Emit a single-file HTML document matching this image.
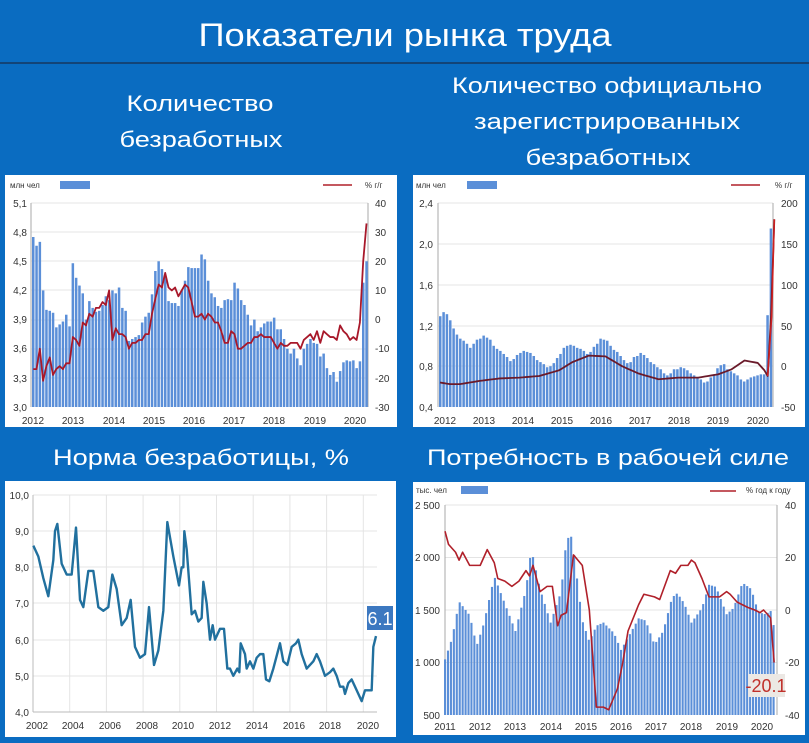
<!DOCTYPE html>
<html><head><meta charset="utf-8"><style>
html,body{margin:0;padding:0;background:#0a6cc1}
svg{display:block}
text{font-family:"Liberation Sans",sans-serif}
.t{fill:#fff}
.ax{font-size:10px;fill:#333}
.lg{font-size:8px;fill:#333}
</style></head><body>
<svg id="s" width="809" height="743" viewBox="0 0 809 743" xmlns="http://www.w3.org/2000/svg">
<rect width="809" height="743" fill="#0a6cc1"/>
<line x1="0" y1="63" x2="809" y2="63" stroke="#16365f" stroke-width="1.5"/>
<text class="t" x="405" y="46" font-size="32" text-anchor="middle" textLength="413" lengthAdjust="spacingAndGlyphs">Показатели рынка труда</text>
<text class="t" x="200" y="111" font-size="22" text-anchor="middle" textLength="147" lengthAdjust="spacingAndGlyphs">Количество</text>
<text class="t" x="201" y="147" font-size="22" text-anchor="middle" textLength="163" lengthAdjust="spacingAndGlyphs">безработных</text>
<text class="t" x="607" y="93" font-size="22" text-anchor="middle" textLength="310" lengthAdjust="spacingAndGlyphs">Количество официально</text>
<text class="t" x="607" y="129" font-size="22" text-anchor="middle" textLength="266" lengthAdjust="spacingAndGlyphs">зарегистрированных</text>
<text class="t" x="608" y="165" font-size="22" text-anchor="middle" textLength="165" lengthAdjust="spacingAndGlyphs">безработных</text>
<text class="t" x="201" y="465" font-size="22" text-anchor="middle" textLength="296" lengthAdjust="spacingAndGlyphs">Норма безработицы, %</text>
<text class="t" x="608" y="465" font-size="22" text-anchor="middle" textLength="362" lengthAdjust="spacingAndGlyphs">Потребность в рабочей силе</text>

<!-- chart boxes -->
<rect x="5" y="175" width="392" height="252" fill="#fff"/>
<rect x="413" y="175" width="392" height="252" fill="#fff"/>
<rect x="5" y="481" width="391" height="256" fill="#fff"/>
<rect x="413" y="482" width="392" height="253" fill="#fff"/>
<g id="g1"></g><g id="g2"></g><g id="g3"></g><g id="g4"></g>

<!-- chart1 labels -->
<text class="lg" x="10" y="188">млн чел</text>
<rect x="60" y="181" width="30" height="8" fill="#5b8fd8"/>
<line x1="323" y1="185" x2="352" y2="185" stroke="#b0202a" stroke-width="1.5"/>
<text class="lg" x="365" y="188">% г/г</text>
<g class="ax" text-anchor="end">
<text x="27" y="207">5,1</text><text x="27" y="236">4,8</text><text x="27" y="265">4,5</text><text x="27" y="294">4,2</text><text x="27" y="323">3,9</text><text x="27" y="352">3,6</text><text x="27" y="382">3,3</text><text x="27" y="411">3,0</text>
</g>
<g class="ax">
<text x="375" y="207">40</text><text x="375" y="236">30</text><text x="375" y="265">20</text><text x="375" y="294">10</text><text x="375" y="323">0</text><text x="375" y="352">-10</text><text x="375" y="382">-20</text><text x="375" y="411">-30</text>
</g>
<g class="ax" text-anchor="middle">
<text x="33" y="424">2012</text><text x="73" y="424">2013</text><text x="114" y="424">2014</text><text x="154" y="424">2015</text><text x="194" y="424">2016</text><text x="234" y="424">2017</text><text x="274" y="424">2018</text><text x="315" y="424">2019</text><text x="355" y="424">2020</text>
</g>

<!-- chart2 labels -->
<text class="lg" x="416" y="188">млн чел</text>
<rect x="467" y="181" width="30" height="8" fill="#5b8fd8"/>
<line x1="731" y1="185" x2="760" y2="185" stroke="#b0202a" stroke-width="1.5"/>
<text class="lg" x="775" y="188">% г/г</text>
<g class="ax" text-anchor="end">
<text x="433" y="207">2,4</text><text x="433" y="248">2,0</text><text x="433" y="289">1,6</text><text x="433" y="330">1,2</text><text x="433" y="370">0,8</text><text x="433" y="411">0,4</text>
</g>
<g class="ax">
<text x="781" y="207">200</text><text x="781" y="248">150</text><text x="781" y="289">100</text><text x="781" y="330">50</text><text x="781" y="370">0</text><text x="781" y="411">-50</text>
</g>
<g class="ax" text-anchor="middle">
<text x="445" y="424">2012</text><text x="484" y="424">2013</text><text x="523" y="424">2014</text><text x="562" y="424">2015</text><text x="601" y="424">2016</text><text x="640" y="424">2017</text><text x="679" y="424">2018</text><text x="718" y="424">2019</text><text x="758" y="424">2020</text>
</g>

<!-- chart3 labels -->
<g class="ax" text-anchor="end">
<text x="29" y="499">10,0</text><text x="29" y="535">9,0</text><text x="29" y="571">8,0</text><text x="29" y="607">7,0</text><text x="29" y="644">6,0</text><text x="29" y="680">5,0</text><text x="29" y="716">4,0</text>
</g>
<g class="ax" text-anchor="middle">
<text x="37" y="729">2002</text><text x="73" y="729">2004</text><text x="110" y="729">2006</text><text x="147" y="729">2008</text><text x="183" y="729">2010</text><text x="220" y="729">2012</text><text x="257" y="729">2014</text><text x="294" y="729">2016</text><text x="330" y="729">2018</text><text x="368" y="729">2020</text>
</g>

<!-- chart4 labels -->
<text class="lg" x="416" y="493">тыс. чел</text>
<rect x="461" y="486" width="27" height="8" fill="#5b8fd8"/>
<line x1="710" y1="491" x2="736" y2="491" stroke="#b0202a" stroke-width="1.5"/>
<text class="lg" x="746" y="493">% год к году</text>
<g class="ax" text-anchor="end">
<text x="440" y="509">2 500</text><text x="440" y="561">2 000</text><text x="440" y="614">1 500</text><text x="440" y="666">1 000</text><text x="440" y="719">500</text>
</g>
<g class="ax">
<text x="785" y="509">40</text><text x="785" y="561">20</text><text x="785" y="614">0</text><text x="785" y="666">-20</text><text x="785" y="719">-40</text>
</g>
<g class="ax" text-anchor="middle">
<text x="445" y="730">2011</text><text x="480" y="730">2012</text><text x="515" y="730">2013</text><text x="551" y="730">2014</text><text x="586" y="730">2015</text><text x="621" y="730">2016</text><text x="656" y="730">2017</text><text x="691" y="730">2018</text><text x="727" y="730">2019</text><text x="762" y="730">2020</text>
</g>
<g id="top"></g>
<rect x="367" y="606" width="26" height="24" fill="#3c78c0"/>
<text x="380" y="625" font-size="18" fill="#fff" text-anchor="middle">6.1</text>
<rect x="748" y="674" width="37" height="23" fill="#ece8e4"/>
<text x="766" y="692" font-size="18" fill="#c0302a" text-anchor="middle">-20.1</text>
</svg>
<script>
var NS="http://www.w3.org/2000/svg";
function el(p,n,a){var e=document.createElementNS(NS,n);for(var k in a)e.setAttribute(k,a[k]);document.getElementById(p).appendChild(e);return e;}
function interp(keys,t){for(var i=0;i<keys.length-1;i++){if(t<=keys[i+1][0]){var a=keys[i],b=keys[i+1];var f=(t-a[0])/(b[0]-a[0]||1);return a[1]+(b[1]-a[1])*f;}}return keys[keys.length-1][1];}
function grid(g,x1,x2,ys){ys.forEach(function(y){el(g,"line",{x1:x1,x2:x2,y1:y,y2:y,stroke:"#e4e4e4","stroke-width":1});});}
function barsDraw(g,vals,x0,step,w,yf,yb){vals.forEach(function(v,i){var y=yf(v);el(g,"rect",{x:(x0+i*step).toFixed(2),y:y.toFixed(2),width:w,height:(yb-y).toFixed(2),fill:"#5b8fd8"});});}
function line(g,pts,col,wd){el(g,"polyline",{points:pts.map(function(p){return p[0].toFixed(2)+","+p[1].toFixed(2)}).join(" "),fill:"none",stroke:col,"stroke-width":wd,"stroke-linejoin":"round"});}

// chart1
(function(){
var g="g1";grid(g,31,368,[203,232,261,290,320,349,378]);
el(g,"line",{x1:31,x2:31,y1:203,y2:407,stroke:"#aaa"});el(g,"line",{x1:368,x2:368,y1:203,y2:407,stroke:"#aaa"});
var b=[4.75,4.66,4.7,4.2,4.0,3.99,3.97,3.82,3.85,3.88,3.95,3.83,4.48,4.33,4.25,4.17,3.9,4.09,4.02,3.98,3.99,4.05,4.14,4.1,4.2,4.17,4.23,4.02,3.99,3.68,3.7,3.72,3.74,3.87,3.93,3.97,4.16,4.4,4.5,4.42,4.35,4.09,4.07,4.07,4.04,4.2,4.3,4.44,4.43,4.43,4.43,4.57,4.52,4.3,4.17,4.13,4.04,4.02,4.1,4.11,4.1,4.28,4.22,4.1,4.05,3.95,3.84,3.9,3.78,3.82,3.86,3.88,3.88,3.92,3.8,3.8,3.7,3.6,3.55,3.6,3.5,3.43,3.6,3.65,3.7,3.66,3.65,3.52,3.55,3.4,3.33,3.36,3.26,3.37,3.46,3.48,3.47,3.48,3.4,3.47,4.28,4.5];
var yf=function(v){return 407-(v-3.0)/2.1*204;};
barsDraw(g,b,32,3.3,2.5,yf,407);
var l=[-17,-17,-10,-21,-16,-13,-19,-17,-16,-17,-15,-15,-6,-7,-9,-1,-2,2,1,4,4,6,5,10,-7,-3,-5,-5,-6,-10,-8,-8,-7,-7,-5,-5,2,7,12,11,16,11,10,11,8,10,12,11,6,1,1,2,0,2,1,-1,-1,-4,-8,-8,-4,-5,-10,-10,-9,-8,-8,-6,-6,-5,-6,-6,-6,-8,-10,-8,-9,-9,-8,-8,-8,-10,-7,-6,-5,-7,-4,-8,-4,-5,-6,-6,-7,-2,-4,-5,-7,-6,-7,-1,20,33];
line(g,l.map(function(v,i){return [33.2+i*3.3,407-(v+30)/70*204];}),"#a8182a",1.8);
})();

// chart2
(function(){
var g="g2";grid(g,438,773,[203,244,285,326,366]);
el(g,"line",{x1:438,x2:438,y1:203,y2:407,stroke:"#aaa"});el(g,"line",{x1:773,x2:773,y1:203,y2:407,stroke:"#aaa"});
var b=[1.29,1.33,1.31,1.25,1.17,1.11,1.07,1.05,1.02,0.98,1.02,1.06,1.07,1.1,1.08,1.06,1.0,0.97,0.95,0.92,0.89,0.85,0.87,0.91,0.93,0.95,0.94,0.93,0.9,0.86,0.84,0.82,0.79,0.8,0.83,0.88,0.92,0.98,1.0,1.01,1.0,0.98,0.97,0.95,0.92,0.94,0.99,1.02,1.07,1.06,1.05,1.0,0.96,0.94,0.9,0.86,0.83,0.84,0.89,0.9,0.93,0.91,0.88,0.84,0.82,0.79,0.77,0.73,0.71,0.73,0.77,0.77,0.79,0.78,0.76,0.73,0.71,0.69,0.67,0.64,0.65,0.69,0.72,0.78,0.81,0.82,0.77,0.75,0.73,0.71,0.67,0.65,0.67,0.69,0.7,0.71,0.72,0.72,1.3,2.15];
var yf=function(v){return 407-(v-0.4)/2.0*204;};
barsDraw(g,b,439,3.34,2.5,yf,407);
var k=[[0,-20],[3,-22],[6,-22],[12,-18],[18,-15],[24,-14],[30,-12],[36,-5],[40,5],[45,13],[50,12],[55,0],[60,-9],[66,-16],[72,-14],[78,-14],[84,-10],[88,-4],[92,7],[96,4],[98,-5],[99,-12],[100,60],[101,180]];
var pts=[];for(var i=0;i<=101;i++){pts.push([440+i*3.31,407-(interp(k,i)+50)/250*204]);}
line(g,pts,"#6a1a2a",1.8);
el(g,"polyline",{points:(440+99*3.31)+","+(407-38/250*204)+" "+(440+100.2*3.31)+","+(407-110/250*204)+" "+(440+101*3.31)+","+(407-230/250*204),fill:"none",stroke:"#d02020","stroke-width":1.5});
})();

// chart3
(function(){
var g="g3";grid(g,33,377,[495,531,567,603,640,676]);
for(var i=1;i<=9;i++){var x=33+i*36.7;el(g,"line",{x1:x,x2:x,y1:495,y2:712,stroke:"#e4e4e4"});}
el(g,"line",{x1:33,x2:377,y1:712,y2:712,stroke:"#bbb"});el(g,"line",{x1:33,x2:33,y1:495,y2:712,stroke:"#bbb"});
var p=[[100,8.6],[115,8.3],[130,7.7],[145,7.2],[160,8.2],[165,9.0],[172,9.2],[185,8.1],[200,7.8],[215,7.8],[228,9.1],[240,7.1],[250,6.9],[265,7.9],[280,7.9],[295,6.9],[310,6.8],[325,6.9],[337,7.8],[350,7.4],[365,6.4],[380,6.6],[392,7.1],[405,5.8],[420,5.5],[435,5.6],[447,6.9],[462,5.3],[475,5.7],[490,6.8],[502,9.25],[520,8.3],[537,7.5],[545,8.0],[550,8.0],[553,9.0],[560,8.5],[575,6.7],[585,6.8],[595,6.5],[605,6.6],[610,7.6],[620,7.0],[630,6.0],[638,6.4],[645,6.0],[655,6.2],[660,6.3],[672,6.3],[682,5.2],[690,5.2],[700,5.0],[712,5.2],[718,5.1],[722,5.9],[735,5.6],[740,5.2],[750,5.4],[760,5.2],[770,5.5],[780,5.6],[790,5.6],[798,4.9],[808,4.85],[820,5.2],[840,5.9],[850,5.4],[862,5.3],[875,5.8],[888,5.9],[895,6.0],[905,5.6],[920,5.2],[940,5.4],[950,5.6],[960,5.4],[975,5.0],[990,5.1],[1000,5.2],[1010,5.0],[1020,4.7],[1030,4.7],[1035,4.5],[1045,4.8],[1055,4.9],[1065,4.7],[1075,4.5],[1085,4.3],[1095,4.6],[1105,4.6],[1115,4.6],[1120,5.8],[1128,6.1]];
line(g,p.map(function(q){return [q[0]/3,712-(q[1]-4)*36.17];}),"#21709e",2.4);
})();

// chart4
(function(){
var g="g4";grid(g,445,777,[505,557.5,610,662.5]);
el(g,"line",{x1:445,x2:445,y1:505,y2:715,stroke:"#aaa"});el(g,"line",{x1:777,x2:777,y1:505,y2:715,stroke:"#aaa"});
var X=function(y){return 445+(y-2011)*35.2;};
var kb=[[2011.0,1030],[2011.2,1230],[2011.4,1580],[2011.7,1450],[2011.9,1160],[2012.1,1370],[2012.4,1820],[2012.7,1560],[2013.0,1300],[2013.3,1700],[2013.45,2080],[2013.7,1700],[2014.0,1380],[2014.3,1680],[2014.45,2180],[2014.6,2200],[2014.9,1400],[2015.1,1200],[2015.3,1350],[2015.5,1380],[2015.8,1280],[2016.0,1120],[2016.3,1300],[2016.5,1420],[2016.7,1400],[2016.95,1170],[2017.2,1300],[2017.45,1620],[2017.6,1660],[2017.8,1560],[2018.0,1380],[2018.3,1520],[2018.5,1740],[2018.7,1720],[2019.0,1460],[2019.2,1520],[2019.45,1760],[2019.7,1700],[2019.9,1480],[2020.1,1460],[2020.25,1490],[2020.3,1340],[2020.4,1390]];
var yf=function(v){return 715-(v-500)/2000*210;};
for(var i=0;i<113;i++){var t=2011+i/12;var v=interp(kb,t);var y=yf(v);el(g,"rect",{x:(X(t)-1).toFixed(2),y:y.toFixed(2),width:2.1,height:(715-y).toFixed(2),fill:"#5b8fd8"});}
var kl=[[2011.0,30],[2011.1,25],[2011.3,22],[2011.4,19],[2011.5,22],[2011.7,17],[2012.0,17],[2012.2,23],[2012.4,18],[2012.5,12],[2012.7,11],[2012.9,9],[2013.1,11],[2013.3,15],[2013.4,13],[2013.5,17],[2013.7,7],[2013.9,9],[2014.05,9],[2014.2,-6],[2014.3,-2],[2014.45,-1],[2014.65,21],[2014.9,17],[2015.1,0],[2015.3,-37],[2015.5,-37],[2015.65,-38],[2015.9,-30],[2016.05,-20],[2016.2,-8],[2016.5,2],[2016.65,6],[2016.95,5],[2017.1,4],[2017.4,15],[2017.55,14],[2017.7,17],[2017.9,17],[2018.0,19],[2018.1,18],[2018.3,12],[2018.5,5],[2018.8,5],[2019.0,7],[2019.1,6],[2019.3,3],[2019.6,1],[2019.8,0],[2019.95,-1],[2020.05,0],[2020.25,-3],[2020.35,-20]];
line(g,kl.map(function(q){return [X(q[0]),610-q[1]*2.625];}),"#b0202a",1.6);
})();
</script>
</body></html>
